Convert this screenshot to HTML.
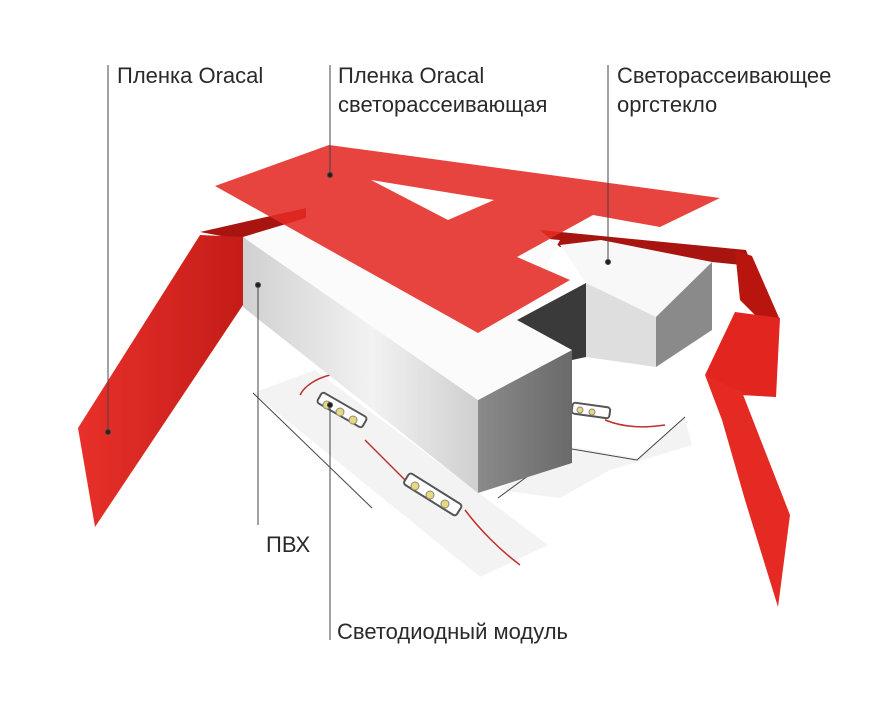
<!DOCTYPE html>
<html><head><meta charset="utf-8"><style>
html,body{margin:0;padding:0;background:#fff;}
.t{font-family:"Liberation Sans",sans-serif;font-size:22px;fill:#2a2a2a;}
</style></head><body>
<svg width="896" height="700" viewBox="0 0 896 700" xmlns="http://www.w3.org/2000/svg">
<defs>
<linearGradient id="wf" x1="0" y1="0" x2="1" y2="0"><stop offset="0" stop-color="#d0d0d0"/><stop offset="0.55" stop-color="#f2f2f2"/><stop offset="1" stop-color="#cfcfcf"/></linearGradient>
<linearGradient id="rf" x1="0" y1="0" x2="1" y2="0"><stop offset="0" stop-color="#8a8a8a"/><stop offset="1" stop-color="#6a6a6a"/></linearGradient>
<linearGradient id="rib" x1="0" y1="0" x2="1" y2="0"><stop offset="0" stop-color="#e8302a"/><stop offset="1" stop-color="#c41c18"/></linearGradient>
</defs>
<polygon points="200,232 306,208 306,222 243,240" fill="#a8140f"/>
<polygon points="540,230 746,250 752,266 560,247" fill="#a8140f"/>
<polygon points="78,428 200,235 243,237 243,305 95,527" fill="url(#rib)"/>
<polygon points="735,250 752,256 780,320 762,322 740,300" fill="#b8150f"/>
<polygon points="735,312 780,318 776,397 740,395 705,375" fill="#e2261f"/>
<polygon points="705,375 742,392 790,515 778,607 745,500 722,420" fill="#e42a22"/>
<polygon points="253,393 315,370 548,545 480,577" fill="#f3f3f3"/>
<line x1="253" y1="393" x2="372" y2="508" stroke="#444" stroke-width="1"/>
<polygon points="498,490 566,446 637,458 685,418 692,445 610,470 560,498" fill="#f3f3f3"/>
<polyline points="498,498 566,448 637,460 685,417" stroke="#444" stroke-width="1" fill="none"/>
<path d="M300,395 C305,385 318,378 330,375 M365,440 C380,455 395,470 410,485 M465,510 C480,530 500,550 520,565 M605,420 C625,428 645,428 665,425" stroke="#c0302a" stroke-width="1.5" fill="none"/>
<g fill="#fff" stroke="#555" stroke-width="2">
<rect x="316" y="404" width="52" height="12" rx="3" transform="rotate(30 342 410)"/>
<rect x="402" y="488" width="62" height="13" rx="3" transform="rotate(32 433 494)"/>
<rect x="572" y="405" width="38" height="11" rx="3" transform="rotate(8 591 410)"/>
</g>
<g fill="#e8d97a" stroke="#888"><circle cx="327" cy="405" r="4"/><circle cx="340" cy="412" r="4"/><circle cx="353" cy="420" r="4"/><circle cx="415" cy="486" r="4"/><circle cx="430" cy="495" r="4"/><circle cx="445" cy="504" r="4"/><circle cx="580" cy="410" r="3"/><circle cx="592" cy="412" r="3"/></g>
<polygon points="243,237 478,400 478,493 243,307" fill="url(#wf)"/>
<polygon points="478,400 572,350 572,463 478,493" fill="url(#rf)"/>
<polygon points="243,237 306,218 560,240 517,320 572,350 478,400" fill="#fbfbfb"/>
<polygon points="517,320 586,283 586,357 572,360 572,350" fill="#3a3a3a"/>
<polygon points="586,283 560,245 601,240 712,262 656,317" fill="#f8f8f8"/>
<polygon points="586,283 656,317 656,367 586,357" fill="#dedede"/>
<polygon points="656,317 712,262 712,330 656,367" fill="#8a8a8a"/>
<polygon points="215,186 329,145 720,198 660,227 593,215 517,257 570,280 478,333" fill="#e52a24" opacity="0.88"/>
<polygon points="371,180 494,200 448,220" fill="#fff"/>
<g stroke="#444" stroke-width="1" fill="#222">
<line x1="108" y1="65" x2="108" y2="432"/><circle cx="108" cy="432" r="2.5"/>
<line x1="330" y1="65" x2="330" y2="175"/><circle cx="330" cy="175" r="2.5"/>
<line x1="608" y1="65" x2="608" y2="262"/><circle cx="608" cy="262" r="2.5"/>
<line x1="258" y1="285" x2="258" y2="525"/><circle cx="258" cy="285" r="2.5"/>
<line x1="330" y1="405" x2="330" y2="640"/><circle cx="330" cy="405" r="2.5"/>
</g>
<text class="t" x="117" y="83">Пленка Oracal</text>
<text class="t" x="338" y="83">Пленка Oracal</text>
<text class="t" x="338" y="112">светорассеивающая</text>
<text class="t" x="617" y="83">Светорассеивающее</text>
<text class="t" x="617" y="112">оргстекло</text>
<text class="t" x="266" y="552">ПВХ</text>
<text class="t" x="337" y="639">Светодиодный модуль</text>
</svg>
</body></html>
